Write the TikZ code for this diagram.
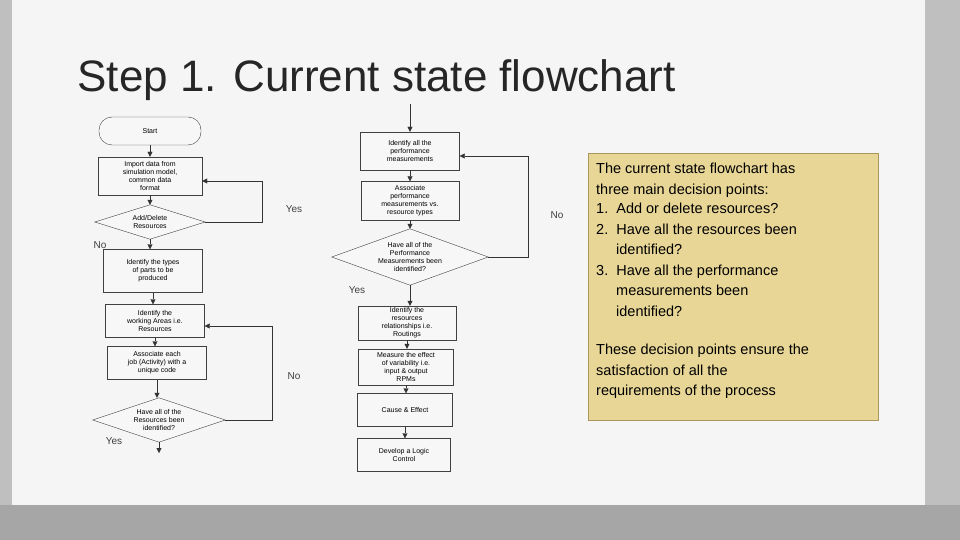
\documentclass[tikz,border=0pt]{standalone}
\usepackage{fontspec}
\setmainfont{Liberation Sans}
\usetikzlibrary{shapes.geometric,arrows.meta}
\definecolor{note}{RGB}{232,214,150}
\definecolor{notebd}{RGB}{170,150,90}
\tikzset{x=1pt,y=-1pt,
 box/.style={draw=black!75,fill=white!94!gray,align=center,font=\fontsize{7}{8}\selectfont,inner sep=1pt},
 dia/.style={align=center,font=\fontsize{7}{8}\selectfont,inner sep=0pt},
 dshape/.style={draw=black!75,fill=white!94!gray},
 arr/.style={draw=black!80,-{Triangle[length=5pt,width=5pt]}},
 lbl/.style={font=\fontsize{10}{12}\selectfont,text=black!75}}
\begin{document}
\begin{tikzpicture}
\useasboundingbox (0,0) rectangle (960,540);
\fill[black!25] (0,0) rectangle (960,540);
\fill[white!92!gray] (12,0) rectangle (925,505);
\fill[black!35] (0,505) rectangle (960,540);
\node[anchor=west,font=\fontsize{44}{46}\selectfont,text=black!85] (title) at (74,80) {Step 1. Current state flowchart};
% left column
\node[draw=black!75,fill=white!94!gray,rounded corners=13pt,minimum width=102pt,minimum height=28pt,font=\fontsize{7}{8}\selectfont] (start) at (150,131) {Start};
\node[box,minimum width=104pt,minimum height=38pt] (imp) at (150,176) {Import data from\\simulation model,\\common data\\format};
\node[dia,minimum width=110pt,minimum height=34pt] (add) at (150,222) {};
\draw[dshape] (add.north)--(add.east)--(add.south)--(add.west)--cycle;
\node[dia] at (add) {Add/Delete\\Resources};
\node[box,minimum width=99pt,minimum height=43pt] (types) at (153,271) {Identify the types\\of parts to be\\produced};
\node[box,minimum width=99pt,minimum height=33pt] (work) at (155,321) {Identify the\\working Areas i.e.\\Resources};
\node[box,minimum width=99pt,minimum height=33pt] (assoc) at (157,363) {Associate each\\job (Activity) with a\\unique code};
\node[dia,minimum width=132pt,minimum height=44pt] (have) at (159,420) {};
\draw[dshape] (have.north)--(have.east)--(have.south)--(have.west)--cycle;
\node[dia] at (have) {Have all of the\\Resources been\\identified?};
\coordinate (lend) at (159,453);
\draw[arr] (start) -- (imp);
\draw[arr] (imp) -- (add);
\draw[arr] (add) -- (add |- types.north);
\draw[arr] (types.south) -- (types.south |- work.north);
\draw[arr] (work.south) -- (work.south |- assoc.north);
\draw[arr] (assoc.south) -- (assoc.south |- have.north);
\draw[arr] (have) -- (lend);
\draw[arr] (add.east) -- (262,222) -- (262,181) -- (imp.east |- 0,181);
\draw[arr] (have.east) -- (272,420) -- (272,326) -- (work.east |- 0,326);
\node[lbl] (ny) at (100,245) {No};
\node[lbl] (yy) at (294,209) {Yes};
\node[lbl] (nn) at (294,376) {No};
\node[lbl] (ly) at (114,441) {Yes};
% middle column
\coordinate (mtop) at (410,104);
\node[box,minimum width=99pt,minimum height=38pt] (ident) at (410,151) {Identify all the\\performance\\measurements};
\node[box,minimum width=98pt,minimum height=39pt] (aperf) at (410,201) {Associate\\performance\\measurements vs.\\resource types};
\node[dia,minimum width=156pt,minimum height=56pt] (hperf) at (410,257) {};
\draw[dshape] (hperf.north)--(hperf.east)--(hperf.south)--(hperf.west)--cycle;
\node[dia] at (hperf) {Have all of the\\Performance\\Measurements been\\identified?};
\node[box,minimum width=98pt,minimum height=34pt] (rel) at (407,323) {Identify the\\resources\\relationships i.e.\\Routings};
\node[box,minimum width=95pt,minimum height=36pt] (meas) at (406,367) {Measure the effect\\of variability i.e.\\input \& output\\RPMs};
\node[box,minimum width=95pt,minimum height=33pt] (cause) at (405,410) {Cause \& Effect};
\node[box,minimum width=93pt,minimum height=33pt] (dev) at (404,455) {Develop a Logic\\Control};
\draw[arr] (mtop) -- (ident);
\draw[arr] (ident) -- (aperf);
\draw[arr] (aperf) -- (hperf);
\draw[arr] (hperf.south) -- (hperf.south |- rel.north);
\draw[arr] (rel.south) -- (rel.south |- meas.north);
\draw[arr] (meas.south) -- (meas.south |- cause.north);
\draw[arr] (cause.south) -- (cause.south |- dev.north);
\draw[arr] (hperf.east) -- (528,257) -- (528,156) -- (ident.east |- 0,156);
\node[lbl] (my) at (357,290) {Yes};
\node[lbl] (mn) at (557,215) {No};
% note
\node[draw=notebd,fill=note,anchor=north west,minimum width=290pt,minimum height=267pt,inner sep=0pt] (note) at (588,153) {};
\node[anchor=north west,text width=262pt,align=flush left,inner sep=0pt,font=\fontsize{14.5}{20.5}\selectfont] (notetext) at (596,163) {%
The current state flowchart has\\three main decision points:\\[-1pt]
1.\ \ Add or delete resources?\\
2.\ \ Have all the resources been\\\hspace*{20pt}identified?\\
3.\ \ Have all the performance\\\hspace*{20pt}measurements been\\\hspace*{20pt}identified?\\[18pt]
These decision points ensure the\\satisfaction of all the\\requirements of the process};
\end{tikzpicture}
\end{document}
